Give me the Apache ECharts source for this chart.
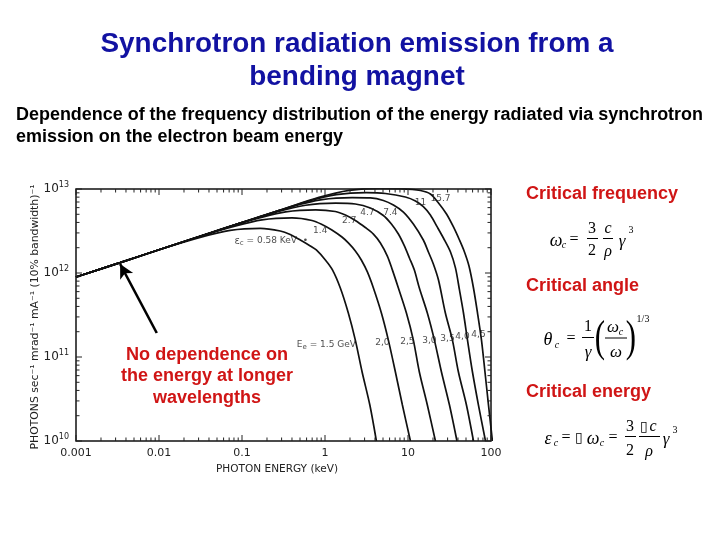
<!DOCTYPE html>
<html><head><meta charset="utf-8">
<script src="https://cdn.jsdelivr.net/npm/echarts@6/dist/echarts.min.js"></script>
<style>html,body{margin:0;padding:0;background:#fff}#c{width:720px;height:540px}</style>
</head><body><div id="c"></div>
<script>
// ---------------- data ----------------
const criticalEnergies = ['0.58', '1.4', '2.7', '4.7', '7.4', '11', '15.7'];
const beamEnergies = ['1.5', '2.0', '2.5', '3.0', '3.5', '4.0', '4.5'];

const energy15 = [0.001, 0.0034, 0.01, 0.0313, 0.072, 0.166, 0.289, 0.381, 0.504, 0.665, 0.786, 1.01, 1.23, 1.53, 1.91, 2.32, 2.80, 3.47, 4.16];
const flux15 = [8.96e11, 1.33e12, 1.89e12, 2.65e12, 3.21e12, 3.39e12, 3.16e12, 2.87e12, 2.47e12, 2.10e12, 1.88e12, 1.43e12, 1.09e12, 6.63e11, 3.34e11, 1.59e11, 6.63e10, 2.68e10, 1.0e10];

const energy20 = [0.001, 0.0034, 0.01, 0.0313, 0.0755, 0.174, 0.400, 0.697, 0.920, 1.21, 1.60, 1.91, 2.32, 2.74, 3.24, 3.83, 4.78, 5.80, 7.05, 8.56, 10.7];
const flux20 = [8.96e11, 1.33e12, 1.89e12, 2.74e12, 3.53e12, 4.28e12, 4.52e12, 4.22e12, 3.78e12, 3.25e12, 2.68e12, 2.28e12, 1.83e12, 1.43e12, 1.03e12, 6.63e11, 3.34e11, 1.59e11, 6.63e10, 2.68e10, 1.0e10];

const energy25 = [0.001, 0.0034, 0.01, 0.0313, 0.0951, 0.146, 0.336, 0.773, 1.33, 1.76, 2.32, 3.06, 3.83, 4.65, 5.64, 6.48, 7.66, 9.57, 11.6, 13.7, 17.1, 21.4];
const flux25 = [8.96e11, 1.33e12, 1.89e12, 2.74e12, 3.92e12, 4.41e12, 5.34e12, 5.64e12, 5.40e12, 4.90e12, 4.22e12, 3.48e12, 2.91e12, 2.28e12, 1.59e12, 1.09e12, 6.63e11, 3.34e11, 1.59e11, 6.63e10, 2.68e10, 1.0e10];

const energy30 = [0.001, 0.0034, 0.01, 0.0313, 0.0951, 0.254, 0.583, 1.34, 2.32, 3.52, 5.05, 6.31, 7.66, 9.05, 10.4, 11.9, 13.7, 17.1, 20.8, 25.3, 31.6, 38.9];
const flux30 = [8.96e11, 1.33e12, 1.89e12, 2.74e12, 3.92e12, 5.29e12, 6.41e12, 6.78e12, 6.63e12, 5.94e12, 4.84e12, 3.83e12, 2.91e12, 2.10e12, 1.51e12, 1.09e12, 6.63e11, 3.34e11, 1.59e11, 6.63e10, 2.68e10, 1.0e10];

const energy35 = [0.001, 0.0034, 0.01, 0.0313, 0.0951, 0.400, 0.920, 2.12, 3.52, 5.05, 6.67, 8.80, 11.6, 15.3, 17.6, 20.2, 23.3, 28.2, 34.3, 40.5, 50.6, 61.5];
const flux35 = [8.96e11, 1.33e12, 1.89e12, 2.74e12, 3.92e12, 6.17e12, 7.48e12, 7.90e12, 7.82e12, 7.30e12, 6.45e12, 5.32e12, 3.83e12, 2.47e12, 1.78e12, 1.28e12, 8.25e11, 3.34e11, 1.59e11, 6.63e10, 2.68e10, 1.0e10];

const energy40 = [0.001, 0.0034, 0.01, 0.0313, 0.0951, 0.289, 0.593, 1.37, 3.14, 5.34, 9.30, 12.3, 15.3, 18.6, 22.4, 26.7, 32.5, 37.3, 41.7, 46.6, 52.1, 59.8, 70.6, 85.8];
const flux40 = [8.96e11, 1.33e12, 1.89e12, 2.74e12, 3.92e12, 5.61e12, 7.06e12, 8.55e12, 9.04e12, 8.84e12, 8.03e12, 7.20e12, 6.16e12, 4.90e12, 3.56e12, 2.61e12, 1.78e12, 1.15e12, 6.28e11, 3.34e11, 1.59e11, 6.63e10, 2.68e10, 1.0e10];

const energy45 = [0.001, 0.0034, 0.01, 0.0313, 0.0951, 0.289, 0.846, 1.95, 4.48, 8.10, 14.1, 18.6, 23.3, 29.1, 35.3, 41.7, 47.9, 54.3, 61.5, 68.8, 76.8, 84.6, 93.3, 104];
const flux45 = [8.96e11, 1.33e12, 1.89e12, 2.74e12, 3.92e12, 5.61e12, 7.94e12, 9.62e12, 1.02e13, 1.01e13, 9.60e12, 8.72e12, 6.81e12, 5.04e12, 3.53e12, 2.47e12, 1.78e12, 1.21e12, 6.63e11, 3.34e11, 1.59e11, 6.63e10, 2.68e10, 1.0e10];

// tick labels
const xTickLabels = ['0.001', '0.01', '0.1', '1', '10', '100'];
const yTickExponents = ['10', '11', '12', '13'];

// in-plot annotations (text, energy, flux)
const annotTexts = ['{g|ε}{sb|c} = 0.58 KeV  •', '1.4', '2.7', '4.7', '7.4', '11', '15.7', '{n|E}{sb|e} = 1.5 GeV', '2,0', '2,5', '3,0', '3,5', '4,0', '4,5'];
const annotEnergy = [0.225, 0.877, 1.96, 3.24, 6.14, 14.1, 24.6, 1.04, 4.91, 9.84, 18.1, 29.9, 45.3, 70.6];
const annotFlux = [2.40e12, 3.16e12, 4.16e12, 5.18e12, 5.18e12, 6.81e12, 7.60e12, 1.39e11, 1.47e11, 1.51e11, 1.55e11, 1.64e11, 1.73e11, 1.83e11];

// arrow (tail -> head) in data coordinates
const arrowTail = [0.0094, 1.93e11];
const arrowHead = [0.0034, 1.28e12];

// ---------------- chart ----------------
const curves = [[energy15, flux15], [energy20, flux20], [energy25, flux25], [energy30, flux30], [energy35, flux35], [energy40, flux40], [energy45, flux45]];
const zip = (a, b) => a.map((v, i) => [v, b[i]]);

const PLOT_FONT = '"DejaVu Sans", sans-serif';
const SANS = '"Liberation Sans", Arial, sans-serif';
const SERIF = '"Liberation Serif", "Times New Roman", serif';

const cv = document.createElement('canvas').getContext('2d');
function fitScale(text, font, w) { cv.font = font; return w / cv.measureText(text).width; }

function T(text, x, y, font, fill, align, valign, extra) {
  const el = { type: 'text', x: x, y: y, silent: true,
    style: { text: text, font: font, fill: fill || '#000', textAlign: align || 'center', textVerticalAlign: valign || 'middle', align: align || 'center', verticalAlign: valign || 'middle' } };
  return Object.assign(el, extra || {});
}
function FT(text, x, y, font, fill, align, w, extra) {
  const s = fitScale(text, font, w);
  return T(text, x, y, font, fill, align, 'middle', Object.assign({ scaleX: s }, extra || {}));
}
function L(x1, y1, x2, y2, w) { return { type: 'line', silent: true, shape: { x1, y1, x2, y2 }, style: { stroke: '#000', lineWidth: w || 1 } }; }

const BLUE = '#1212a2', RED = '#d01515';
const titleFont = 'bold 27px ' + SANS;
const subFont = 'bold 18px ' + SANS;
const redFont = 'bold 18px ' + SANS;
const subScale = fitScale('Dependence of the frequency distribution of the energy radiated via synchrotron', subFont, 687);
const titleScale = fitScale('Synchrotron radiation emission from a', titleFont, 513);

const fi = (s) => 'italic ' + s + 'px ' + SERIF;
const fn = (s) => s + 'px ' + SERIF;

const graphics = [
  T('Synchrotron radiation emission from a', 357, 45, titleFont, BLUE, 'center', 'middle', { scaleX: titleScale }),
  T('bending magnet', 357, 78, titleFont, BLUE, 'center', 'middle', { scaleX: titleScale }),
  T('Dependence of the frequency distribution of the energy radiated via synchrotron', 16, 115, subFont, '#000', 'left', 'middle', { scaleX: subScale }),
  T('emission on the electron beam energy', 16, 137, subFont, '#000', 'left', 'middle', { scaleX: subScale }),
  FT('Critical frequency', 526, 194, redFont, RED, 'left', 152),
  FT('Critical angle', 526, 286, redFont, RED, 'left', 113),
  FT('Critical energy', 526, 392, redFont, RED, 'left', 125),
  FT('No dependence on', 207, 355, redFont, RED, 'center', 162),
  FT('the energy at longer', 207, 376, redFont, RED, 'center', 172),
  FT('wavelengths', 207, 398, redFont, RED, 'center', 108),
  FT('PHOTONS sec⁻¹ mrad⁻¹ mA⁻¹ (10% bandwidth)⁻¹', 35, 317, '11px ' + PLOT_FONT, '#222', 'center', 265, { rotation: Math.PI / 2 }),
  FT('PHOTON ENERGY (keV)', 277, 469, '11px ' + PLOT_FONT, '#222', 'center', 122),
  // formula 1: omega_c = 3/2 c/rho gamma^3
  T('ω', 556, 241, fi(18)), T('c', 564, 245, fi(10)), T('=', 574, 240, fn(16)),
  T('3', 592, 229, fn(16)), L(587, 238.5, 598, 238.5), T('2', 592, 251, fn(16)),
  T('c', 608, 229, fi(16)), L(603, 238.5, 613, 238.5), T('ρ', 608, 252, fi(16)),
  T('γ', 622, 242, fi(17)), T('3', 631, 230, fn(10)),
  // formula 2: theta_c = 1/gamma (omega_c/omega)^(1/3)
  T('θ', 548, 340, fi(18)), T('c', 557, 345, fi(10)), T('=', 571, 339, fn(16)),
  T('1', 588, 327, fn(16)), L(582, 337.5, 594, 337.5), T('γ', 588, 353, fi(17)),
  T('(', 600, 339, fn(44), '#000', 'center', 'middle', { scaleX: 0.7 }),
  T('ω', 613, 328, fi(17)), T('c', 621, 332, fi(10)), L(605, 338, 627, 338), T('ω', 616, 353, fi(17)),
  T(')', 631, 339, fn(44), '#000', 'center', 'middle', { scaleX: 0.7 }),
  T('1/3', 643, 319, fn(10)),
  // formula 3: eps_c = hbar omega_c = 3/2 hbar c / rho gamma^3
  T('ε', 548, 439, fi(18)), T('c', 556, 443, fi(10)), T('=', 566, 438, fn(16)),
  T('▯', 579, 438, fn(14)), T('ω', 593, 439, fi(18)), T('c', 602, 443, fi(10)), T('=', 613, 438, fn(16)),
  T('3', 630, 427, fn(16)), L(625, 436.5, 636, 436.5), T('2', 630, 451, fn(16)),
  T('▯', 644, 427, fn(14)), T('c', 653, 427, fi(16)), L(639, 436.5, 660, 436.5), T('ρ', 649, 452, fi(16)),
  T('γ', 666, 440, fi(17)), T('3', 675, 430, fn(10))
];

function renderTicks(params, api) {
  if (params.dataIndex !== 0) return null;
  const ch = [];
  const st = { stroke: '#222', lineWidth: 1 };
  for (let d = -3; d <= 2; d++) {
    for (let m = 1; m <= 9; m++) {
      if (d === 2 && m > 1) break;
      const v = m * Math.pow(10, d);
      const len = m === 1 ? 6 : 3.5;
      const b = api.coord([v, 1e10]), t = api.coord([v, 1e13]);
      ch.push({ type: 'line', shape: { x1: b[0], y1: b[1], x2: b[0], y2: b[1] - len }, style: st });
      ch.push({ type: 'line', shape: { x1: t[0], y1: t[1], x2: t[0], y2: t[1] + len }, style: st });
    }
  }
  for (let d = 10; d <= 13; d++) {
    for (let m = 1; m <= 9; m++) {
      if (d === 13 && m > 1) break;
      const v = m * Math.pow(10, d);
      const len = m === 1 ? 6 : 3.5;
      const l = api.coord([0.001, v]), r = api.coord([100, v]);
      ch.push({ type: 'line', shape: { x1: l[0], y1: l[1], x2: l[0] + len, y2: l[1] }, style: st });
      ch.push({ type: 'line', shape: { x1: r[0], y1: r[1], x2: r[0] - len, y2: r[1] }, style: st });
    }
  }
  return { type: 'group', children: ch };
}

const series = curves.map((c, i) => ({
  name: beamEnergies[i] + ' GeV (εc ' + criticalEnergies[i] + ' keV)',
  type: 'line', data: zip(c[0], c[1]), showSymbol: false, symbol: 'none',
  smooth: 0.3, clip: true, lineStyle: { color: '#111', width: 1.7 }, z: 3
}));

series.push({
  type: 'custom', renderItem: renderTicks, data: [[0.01, 1e11]], clip: false, silent: true, z: 5
});

series.push({
  type: 'scatter', data: zip(annotEnergy, annotFlux), symbolSize: 1, silent: true,
  itemStyle: { color: 'rgba(0,0,0,0)' }, z: 6,
  label: {
    show: true, position: 'inside', color: '#222', fontFamily: PLOT_FONT, fontSize: 9,
    formatter: (p) => annotTexts[p.dataIndex],
    rich: {
      g: { fontFamily: PLOT_FONT, fontSize: 10, color: '#222' },
      n: { fontFamily: PLOT_FONT, fontSize: 9, color: '#222' },
      sb: { fontFamily: PLOT_FONT, fontSize: 7, color: '#222', padding: [5, 0, 0, 0] }
    }
  },
  markLine: {
    silent: true, symbol: ['none', 'arrow'], symbolSize: [11, 14],
    lineStyle: { color: '#000', width: 2.6, type: 'solid' }, label: { show: false },
    data: [[{ coord: arrowTail }, { coord: arrowHead }]]
  }
});

const chart = echarts.init(document.getElementById('c'), null, { renderer: 'canvas' });
chart.setOption({
  animation: false,
  backgroundColor: '#fff',
  grid: { left: 76, top: 189, width: 415, height: 252, show: true, borderColor: '#111', borderWidth: 1.5, backgroundColor: 'transparent' },
  xAxis: {
    type: 'log', logBase: 10, min: 0.001, max: 100,
    axisLine: { show: false }, axisTick: { show: false }, splitLine: { show: false },
    axisLabel: { margin: 7, fontFamily: PLOT_FONT, fontSize: 11, color: '#222', showMinLabel: true, showMaxLabel: true,
      formatter: (v) => xTickLabels[Math.round(Math.log10(v)) + 3] }
  },
  yAxis: {
    type: 'log', logBase: 10, min: 1e10, max: 1e13,
    axisLine: { show: false }, axisTick: { show: false }, splitLine: { show: false },
    axisLabel: { margin: 7, showMinLabel: true, showMaxLabel: true,
      formatter: (v) => '{b|10}{s|' + yTickExponents[Math.round(Math.log10(v)) - 10] + '}',
      rich: {
        b: { fontFamily: PLOT_FONT, fontSize: 12, color: '#222' },
        s: { fontFamily: PLOT_FONT, fontSize: 8, color: '#222', padding: [0, 0, 8, 0] }
      } }
  },
  series: series,
  graphic: graphics
});
</script></body></html>
